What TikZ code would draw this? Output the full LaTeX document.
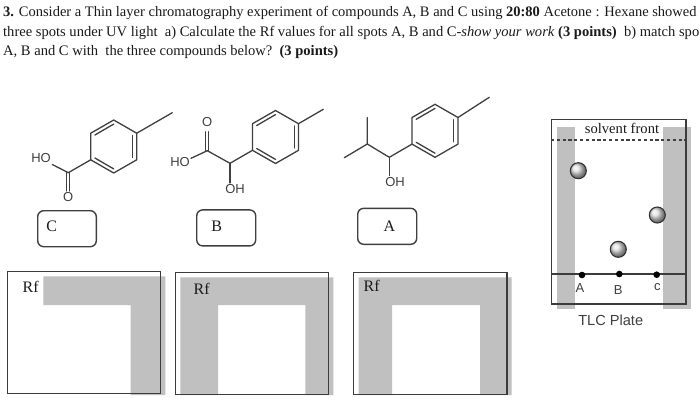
\documentclass[tikz,border=0pt]{standalone}
\usepackage{fontspec}
\setmainfont{Liberation Serif}
\newfontfamily\chemfont{Liberation Sans}
\definecolor{band}{HTML}{C0C0C0}
\definecolor{ink}{HTML}{1A1A1A}
\definecolor{bondc}{HTML}{404040}
\tikzset{
 q/.style={anchor=base west,inner sep=0pt,text=ink,font=\fontsize{14.5}{16}\selectfont},
 qw/.style={anchor=base west,inner sep=0pt,text=ink,font=\fontsize{14.55}{16}\selectfont},
 bond/.style={draw=bondc,line width=1.3pt,line cap=round,line join=round},
 atom/.style={inner sep=0pt,text=bondc,font=\chemfont\fontsize{13}{15}\selectfont},
 tag/.style={draw=bondc,line width=1.4pt,rounded corners=6pt,fill=white},
 serif/.style={inner sep=0pt,text=ink,font=\fontsize{16}{18}\selectfont},
 frame/.style={draw=ink!85!white,line width=1.3pt},
 bandfill/.style={fill=band,draw=none},
 spot/.style={ball color=gray!25},
 dotn/.style={circle,fill=black,minimum size=6.6pt,inner sep=0pt},
 tlc/.style={inner sep=0pt,text=bondc,font=\chemfont\fontsize{13}{15}\selectfont},
 benzene/.pic={
  \coordinate (-t) at (0,-26.5); \coordinate (-rt) at (23,-13.3);
  \coordinate (-rb) at (23,13.3); \coordinate (-b) at (0,26.5);
  \coordinate (-lb) at (-23,13.3); \coordinate (-lt) at (-23,-13.3);
  \draw[bond] (-t)--(-rt)--(-rb)--(-b)--(-lb)--(-lt)--cycle;
  \draw[bond] (-18.8,-11.5)--(0,-22.4);
  \draw[bond] (18.8,-11)--(18.8,11);
  \draw[bond] (-18.8,11.5)--(0,22.4);
 }
}
\begin{document}
\begin{tikzpicture}[x=1pt,y=-1pt]
\useasboundingbox (0,0) rectangle (700,413);
\clip (0,0) rectangle (700,413);
\fill[white] (0,0) rectangle (700,413);
% question text
\node[q] (l1) at (3,16.5) {\textbf{3.} Consider a Thin layer chromatography experiment of compounds A, B and C using \textbf{20:80} Acetone : Hexane showed};
\node[qw] (l2) at (3,36) {three spots under UV light\ \ a) Calculate the Rf values for all spots A, B and C-\textit{show your work} \textbf{(3 points)}\ \ b) match spo};
\node[qw] (l3) at (3,55.5) {A, B and C with\ \ the three compounds below?\ \ \textbf{(3 points)}};
% molecule C
\pic (rc) at (113.7,146.5) {benzene};
\coordinate (cm) at (172.3,112.7);
\coordinate (cc) at (68.3,172.7);
\node[atom] (cho) at (41,158) {HO};
\node[atom] (co) at (68.3,197.5) {O};
\draw[bond] (rc-rt)--(cm);
\draw[bond] (rc-lb)--(cc);
\draw[bond] (cc)--(52.3,164.5);
\draw[bond] (66.8,172.7)--(66.8,191);
\draw[bond] (69.8,172.7)--(69.8,191);
\node[tag,minimum width=58.6pt,minimum height=36pt] (bc) at (67,228.7) {};
\node[serif] (tc) at (51.7,226.7) {C};
% molecule B
\pic (rb) at (275.5,137) {benzene};
\coordinate (bm) at (323.3,109.3);
\coordinate (bch) at (230,163.3);
\coordinate (bcc) at (207.3,150.7);
\node[atom] (bho) at (180,161.7) {HO};
\node[atom] (bo) at (207.3,122.3) {O};
\node[atom] (boh) at (235,189.3) {OH};
\draw[bond] (rb-rt)--(bm);
\draw[bond] (rb-lb)--(bch)--(bcc)--(191,158.3);
\draw[bond] (205.8,150.7)--(205.8,131.7);
\draw[bond] (208.8,150.7)--(208.8,131.7);
\draw[bond] (bch)--(230,183);
\node[tag,minimum width=59pt,minimum height=36pt] (bb) at (226.2,227.9) {};
\node[serif] (tb) at (216.7,226.7) {B};
% molecule A
\pic (ra) at (435,130.8) {benzene};
\coordinate (am) at (489.3,97.3);
\coordinate (ach) at (389.3,157.3);
\coordinate (ai) at (367.3,144);
\coordinate (at) at (367.3,117.7);
\coordinate (al) at (344.3,157.7);
\node[atom] (aoh) at (395,181.7) {OH};
\draw[bond] (ra-rt)--(am);
\draw[bond] (ra-lb)--(ach)--(ai)--(at);
\draw[bond] (ai)--(al);
\draw[bond] (ach)--(389.3,175.5);
\node[tag,minimum width=59pt,minimum height=36pt] (ba) at (387.2,226.3) {};
\node[serif] (ta) at (389.3,226) {A};
% TLC plate
\fill[bandfill] (556.7,126.7) rectangle (574.7,309);
\fill[bandfill] (663.3,126.7) rectangle (690.7,309);
\node[frame,minimum width=134.3pt,minimum height=184.3pt,inner sep=0pt,anchor=north west] (plate) at (551,119) {};
\coordinate (dl) at (551,140);
\coordinate (dr) at (685.3,140);
\draw[draw=bondc,line width=1.2pt,dash pattern=on 3.2pt off 2.6pt] (dl)--(dr);
\node[inner sep=0pt,text=ink,font=\fontsize{14.6}{16}\selectfont] (sf) at (622,128.3) {solvent front};
\coordinate (bl) at (551,274);
\coordinate (br) at (685.3,274);
\draw[frame] (bl)--(br);
\shade[spot] (578.3,170.7) circle (8pt);
\shade[spot] (657.3,215) circle (8pt);
\shade[spot] (618.3,249.3) circle (8pt);
\draw[draw=black!80,line width=1.1pt] (578.3,170.7) circle (8pt) (657.3,215) circle (8pt) (618.3,249.3) circle (8pt);
\node[dotn] (da) at (582,275) {};
\node[dotn] (db) at (619.3,274) {};
\node[dotn] (dc) at (656.7,274.7) {};
\node[tlc] (la) at (580,288.3) {A};
\node[tlc] (lb) at (618.3,290) {B};
\node[tlc] (lc) at (657.3,287.3) {c};
\node[inner sep=0pt,text=bondc,font=\chemfont\fontsize{14.6}{16}\selectfont] (tp) at (610.7,320) {TLC Plate};
% Rf boxes
\fill[bandfill] (43.3,276.3) -| (165.3,395) -- (130.7,395) |- (43.3,305) -- cycle;
\node[frame,minimum width=153pt,minimum height=122.3pt,inner sep=0pt,anchor=north west] (f1) at (7,270.7) {};
\node[serif] (r1) at (30.7,286.7) {Rf};
\fill[bandfill] (180.3,277.3) -| (333.3,395) -- (305.3,395) |- (218,305) |- (180.3,395) -- cycle;
\node[frame,minimum width=153pt,minimum height=122.3pt,inner sep=0pt,anchor=north west] (f2) at (175,271.7) {};
\node[serif] (r2) at (201.7,289) {Rf};
\fill[bandfill] (358.7,277.3) -| (511.7,395) -- (480,395) |- (392,305) |- (358.7,395) -- cycle;
\node[frame,minimum width=153.3pt,minimum height=122.3pt,inner sep=0pt,anchor=north west] (f3) at (353,271.7) {};
\node[serif] (r3) at (371.7,285.7) {Rf};
\end{tikzpicture}
\end{document}
